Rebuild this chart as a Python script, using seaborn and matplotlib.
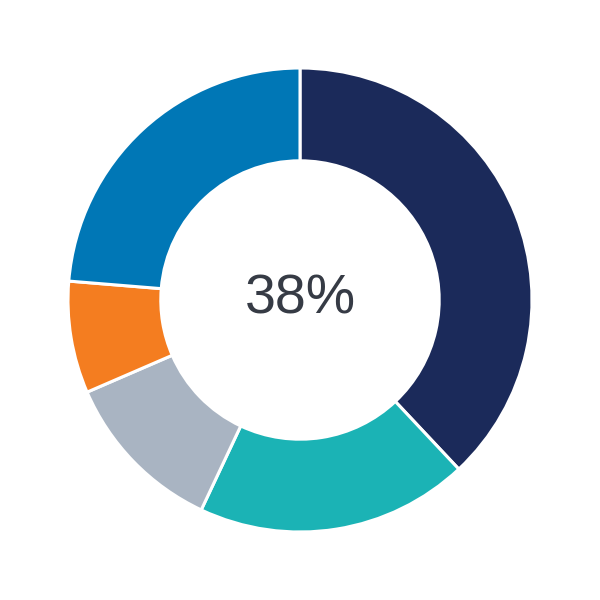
import matplotlib
matplotlib.use("Agg")
import matplotlib.pyplot as plt
import seaborn as sns

# valores (%), sentido horário a partir do topo
categorias = ["Navy", "Teal", "Cinza", "Laranja", "Azul"]
valores = [38, 19, 11.5, 7.8, 23.7]
cores = ["#1b2a5a", "#1bb3b5", "#a9b4c2", "#f47d20", "#0077b6"]
rotulo_centro = "38%"

sns.set_theme(style="white")
plt.rcParams["font.family"] = ["Liberation Sans", "DejaVu Sans"]

fig = plt.figure(figsize=(6, 6), dpi=100)
ax = fig.add_axes([0, 0, 1, 1])

ax.pie(
    valores,
    colors=sns.color_palette(cores),
    startangle=90,
    counterclock=False,
    radius=1,
    wedgeprops=dict(width=0.4, edgecolor="white", linewidth=2.2),
)
ax.text(0, 0, rotulo_centro, ha="center", va="center", fontsize=40, color="#363b45")

lim = 300 / 232
ax.set_xlim(-lim, lim)
ax.set_ylim(-lim, lim)
ax.set_aspect("equal")
ax.axis("off")

fig.savefig("out.png", dpi=100, facecolor="white")
